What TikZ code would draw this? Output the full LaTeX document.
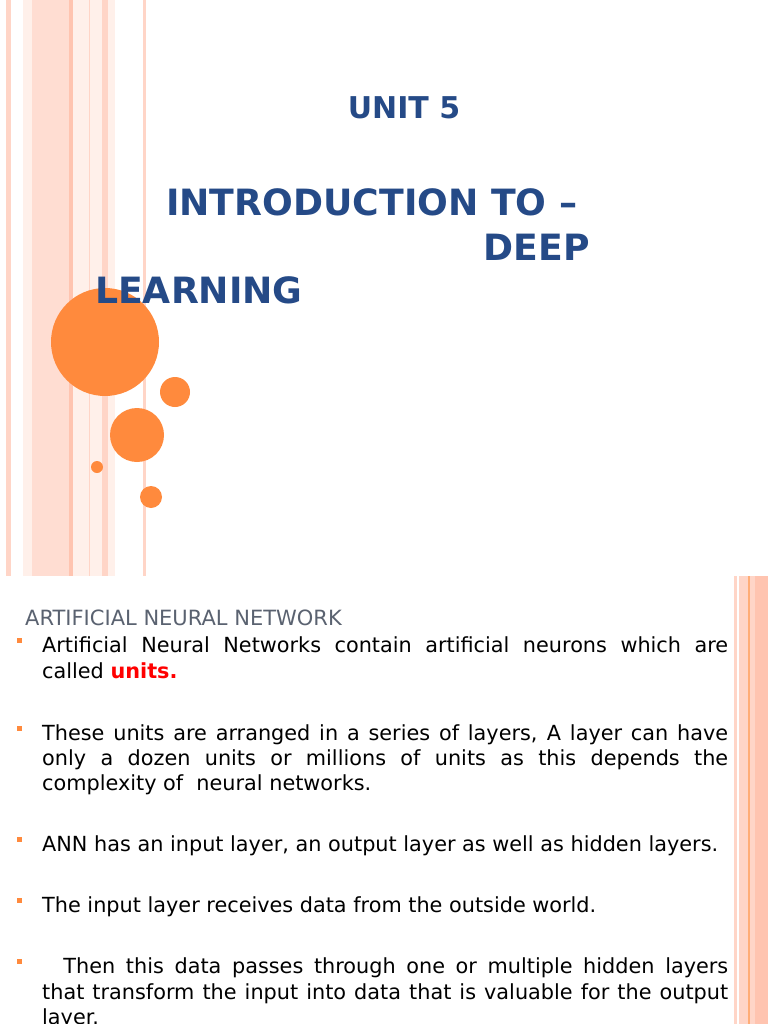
\documentclass[tikz,border=0pt]{standalone}
\usepackage{fontspec}
\setmainfont{DejaVu Sans}
\definecolor{tt}{HTML}{254A87}
\definecolor{orc}{HTML}{FF8A3D}
\definecolor{s1}{HTML}{FFDDD2}
\definecolor{s2}{HTML}{FFC4B0}
\definecolor{s3}{HTML}{FFF0EA}
\definecolor{s4}{HTML}{FFD5C7}
\definecolor{gr}{HTML}{5A6270}
\begin{document}
\begin{tikzpicture}[x=1pt,y=-1pt,
  title/.style={font=\fontsize{30}{36}\selectfont\bfseries,text=tt,inner sep=0,anchor=base},
  big/.style={title,font=\fontsize{36.2}{40}\selectfont\bfseries},
  body/.style={font=\fontsize{20.8}{26}\selectfont,inner sep=0,anchor=base west},
  bul/.style={fill=orc,minimum size=5pt,inner sep=0}]
\useasboundingbox (0,0) rectangle (768,1024);
\fill[white] (0,0) rectangle (768,1024);
% top slide stripes
\fill[s4] (6,0) rectangle (11,576);
\fill[s3] (23,0) rectangle (32,576);
\fill[s1] (32,0) rectangle (69,576);
\fill[s2] (69,0) rectangle (73,576);
\fill[s3] (73,0) rectangle (89,576);
\fill[s4] (89,0) rectangle (90,576);
\fill[s3] (90,0) rectangle (102,576);
\fill[s4] (102,0) rectangle (108,576);
\fill[s3] (108,0) rectangle (115,576);
\fill[s4] (143,0) rectangle (146,576);
% bottom slide stripes
\fill[s4] (734,576) rectangle (737,1024);
\fill[s4] (739,576) rectangle (748,1024);
\fill[orc!70] (748,576) rectangle (749.5,1024);
\fill[s4] (749.5,576) rectangle (755,1024);
\fill[s2] (755,576) rectangle (768,1024);
% circles
\fill[orc] (105,342) circle (54) (175,392) circle (15) (137,435) circle (27)
  (97,467) circle (6) (151,497) circle (11);
% titles
\node[title] (u) at (404,119) {UNIT 5};
\node[big,anchor=base west] (i) at (166,216) {INTRODUCTION TO –};
\node[big,anchor=base east] (d) at (590,260) {DEEP};
\node[big,anchor=base west] (l) at (95,303) {LEARNING};
% bottom
\node[body,text=gr,font=\fontsize{21}{24}\selectfont] (h) at (25,625) {ARTIFICIAL NEURAL NETWORK};
\foreach \n/\y in {b1/640,b2/728,b3/839,b4/900,b5/961}{\node[bul] (\n) at (19,\y) {};}
\node[body] (t1) at (42,652) {\makebox[686pt][s]{Artificial Neural Networks contain artificial neurons which are}};
\node[body] (t2) at (42,678) {called \textcolor{red}{\bfseries units.}};
\node[body] (t3) at (42,740) {\makebox[686pt][s]{These units are arranged in a series of layers, A layer can have}};
\node[body] (t4) at (42,765) {\makebox[686pt][s]{only a dozen units or millions of units as this depends the}};
\node[body] (t5) at (42,790) {complexity of\ \ neural networks.};
\node[body] (t6) at (42,851) {ANN has an input layer, an output layer as well as hidden layers.};
\node[body] (t7) at (42,912) {The input layer receives data from the outside world.};
\node[body] (t8) at (42,973) {\makebox[686pt][s]{\ \ Then this data passes through one or multiple hidden layers}};
\node[body] (t9) at (42,999) {\makebox[686pt][s]{that transform the input into data that is valuable for the output}};
\node[body] (t10) at (42,1024) {layer.};
\end{tikzpicture}
\end{document}
